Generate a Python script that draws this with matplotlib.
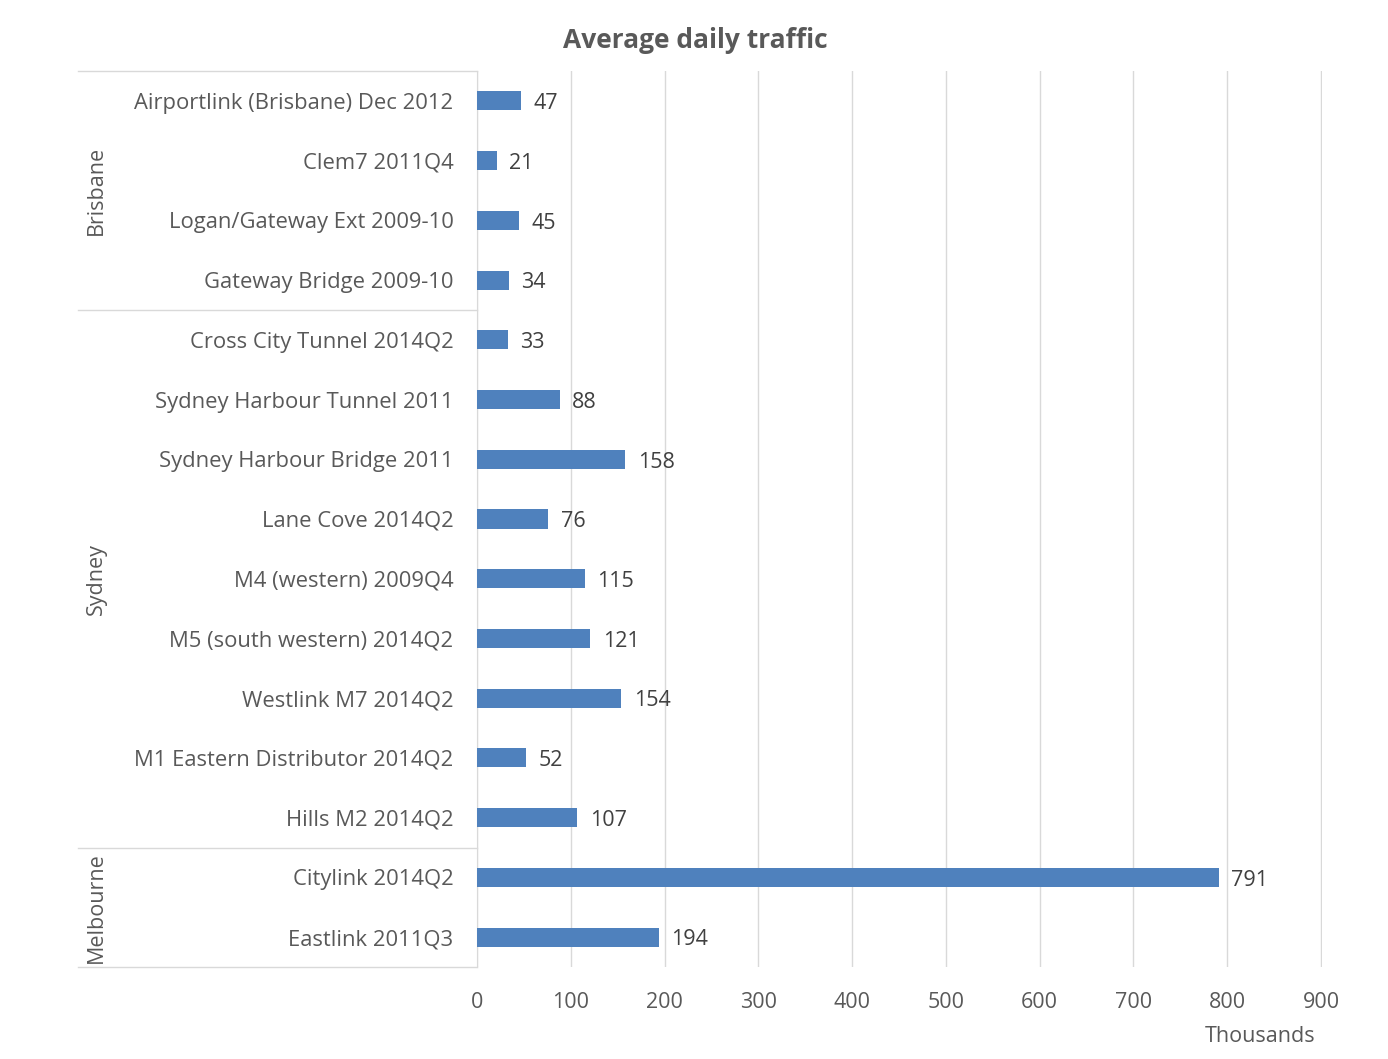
import matplotlib
matplotlib.use("Agg")
import matplotlib.pyplot as plt
import matplotlib.transforms as mtransforms

plt.rcParams['font.family'] = ['Open Sans', 'DejaVu Sans']

roads = ["Airportlink (Brisbane) Dec 2012", "Clem7 2011Q4", "Logan/Gateway Ext 2009-10",
         "Gateway Bridge 2009-10", "Cross City Tunnel 2014Q2", "Sydney Harbour Tunnel 2011",
         "Sydney Harbour Bridge 2011", "Lane Cove 2014Q2", "M4 (western) 2009Q4",
         "M5 (south western) 2014Q2", "Westlink M7 2014Q2", "M1 Eastern Distributor 2014Q2",
         "Hills M2 2014Q2", "Citylink 2014Q2", "Eastlink 2011Q3"]
traffic = [47, 21, 45, 34, 33, 88, 158, 76, 115, 121, 154, 52, 107, 791, 194]
cities = ["Brisbane", "Sydney", "Melbourne"]
city_counts = [4, 9, 2]
xticks = [0, 100, 200, 300, 400, 500, 600, 700, 800, 900]

W, H = 1388, 1059
fig = plt.figure(figsize=(W / 100, H / 100), dpi=100)
ax = fig.add_axes([477 / W, 1 - 967 / H, (1322 - 477) / W, (967 - 71) / H])

text_c = "#595959"
grid_c = "#D9D9D9"
bar_c = "#4F81BD"

ypos = list(range(len(roads)))
ax.barh(ypos, traffic, height=0.32, color=bar_c, zorder=3)
for y, v in zip(ypos, traffic):
    ax.annotate(str(v), (v, y), xytext=(9, -2), textcoords="offset points",
                va="center", ha="left", fontsize=15.5, color="#404040")

ax.set_xlim(0, 901)
ax.set_ylim(len(roads) - 0.5, -0.5)
ax.set_xticks(xticks)
ax.set_xticklabels([str(t) for t in xticks], fontsize=15.5, color=text_c)
ax.set_yticks(ypos)
ax.set_yticklabels(roads, fontsize=15.8, color=text_c)
ax.tick_params(axis="both", length=0)
ax.tick_params(axis="y", pad=17)
ax.tick_params(axis="x", pad=18)
ax.grid(axis="x", color=grid_c, linewidth=1, zorder=0)
for s in ["top", "right", "bottom"]:
    ax.spines[s].set_visible(False)
ax.spines["left"].set_color(grid_c)

# group separators and labels
trans = mtransforms.blended_transform_factory(ax.transAxes, ax.transData)
axw = 1322 - 477
x0 = (78 - 477) / axw
bounds = [-0.5]
for c in city_counts:
    bounds.append(bounds[-1] + c)
for b in bounds:
    ax.plot([x0, 0], [b, b], transform=trans, color=grid_c, lw=1, clip_on=False)
for i, city in enumerate(cities):
    mid = (bounds[i] + bounds[i + 1]) / 2
    ax.text((96 - 477) / axw, mid, city, transform=trans, rotation=90,
            ha="center", va="center", fontsize=15.5, color=text_c)

fig.text(695 / W, 1 - 40 / H, "Average daily traffic", ha="center", va="center",
         fontsize=19, fontweight="bold", color=text_c)
fig.text(1260 / W, 1 - 1036 / H, "Thousands", ha="center", va="center",
         fontsize=15.5, color=text_c)

fig.savefig("out.png", dpi=100, facecolor="white")
